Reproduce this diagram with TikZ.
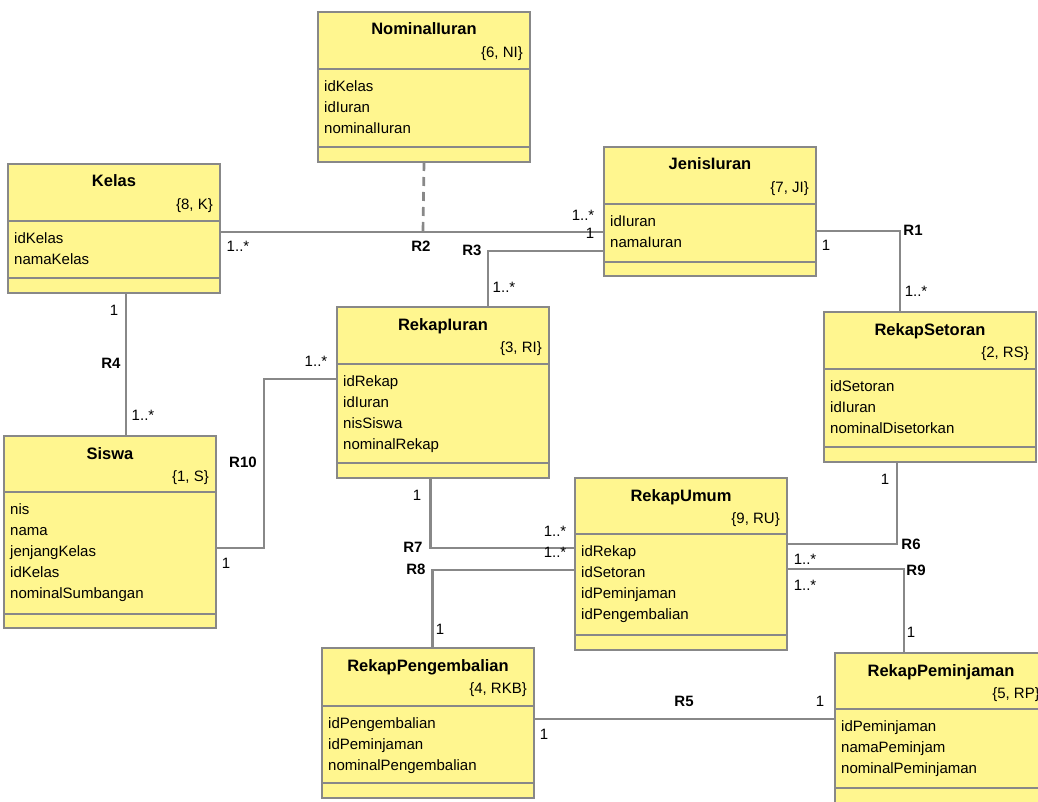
\documentclass[tikz,border=0pt]{standalone}
\usepackage{fontspec}
\setmainfont{Liberation Sans}
\definecolor{boxfill}{RGB}{255,246,143}
\definecolor{boxline}{RGB}{136,136,136}
\tikzset{
  cls/.style={draw=boxline, fill=boxfill, line width=2.7pt, minimum width=212pt, inner sep=0pt, outer sep=0pt, anchor=north west},
  divline/.style={draw=boxline, line width=2.7pt},
  ttl/.style={font=\fontsize{16.5}{18}\selectfont\bfseries, inner sep=0pt, text height=11pt, text depth=3pt},
  tagtxt/.style={font=\fontsize{15}{16}\selectfont, inner sep=0pt, anchor=east, text height=10pt, text depth=3pt},
  attr/.style={font=\fontsize{15}{16}\selectfont, inner sep=0pt, anchor=west, text height=10pt, text depth=3pt},
  conn/.style={draw=boxline, line width=2.7pt},
  assoc/.style={conn, dash pattern=on 9pt off 6pt},
  mult/.style={font=\fontsize{15}{16}\selectfont, inner sep=0pt, text height=10pt, text depth=3pt},
  rel/.style={font=\fontsize{15}{16}\selectfont\bfseries, inner sep=0pt, text height=10pt, text depth=3pt},
}
\newcommand{\umlclass}[9]{%
  \node[cls, minimum height=#6pt] (#1) at (#2,#3) {};
  \draw[divline] ([yshift=-#4pt]#1.north west) -- ([yshift=-#4pt]#1.north east);
  \draw[divline] ([yshift=-#5pt]#1.north west) -- ([yshift=-#5pt]#1.north east);
  \node[ttl] (#1-t) at ([yshift=-19pt]#1.north) {#7};
  \node[tagtxt] (#1-g) at ([xshift=-7pt,yshift=-42pt]#1.north east) {#8};
  \foreach \a [count=\i from 0] in {#9} {
    \node[attr] (#1-a\i) at ([xshift=6pt,yshift={-(#4+19+21*\i)*1pt}]#1.north west) {\a};
  }
}
\begin{document}
\begin{tikzpicture}[x=1pt,y=-1pt]
\useasboundingbox[fill=white] (0,0) rectangle (1038,802);

% classes
\umlclass{Nominal}{318}{12}{57}{135}{150}{NominalIuran}{\{6, NI\}}{idKelas, idIuran, nominalIuran}
\umlclass{Kelas}{8}{164}{57}{114}{129}{Kelas}{\{8, K\}}{idKelas, namaKelas}
\umlclass{Jenis}{604}{147}{57}{115}{129}{JenisIuran}{\{7, JI\}}{idIuran, namaIuran}
\umlclass{Setoran}{824}{312}{57}{135}{150}{RekapSetoran}{\{2, RS\}}{idSetoran, idIuran, nominalDisetorkan}
\umlclass{Siswa}{4}{436}{56}{178}{192}{Siswa}{\{1, S\}}{nis, nama, jenjangKelas, idKelas, nominalSumbangan}
\umlclass{RIuran}{337}{307}{57}{156}{171}{RekapIuran}{\{3, RI\}}{idRekap, idIuran, nisSiswa, nominalRekap}
\umlclass{Umum}{575}{478}{56}{157}{172}{RekapUmum}{\{9, RU\}}{idRekap, idSetoran, idPeminjaman, idPengembalian}
\umlclass{Kembali}{322}{648}{58}{135}{150}{RekapPengembalian}{\{4, RKB\}}{idPengembalian, idPeminjaman, nominalPengembalian}
\umlclass{Pinjam}{835}{653}{56}{135}{150}{RekapPeminjaman}{\{5, RP\}}{idPeminjaman, namaPeminjam, nominalPeminjaman}

% routing coordinates
\coordinate (c2) at (423,232);
\coordinate (c3) at (488,251);
\coordinate (c1) at (900,231);
\coordinate (c4) at (126,300);
\coordinate (c10a) at (264,548);
\coordinate (c10b) at (264,379);
\coordinate (c7) at (430.5,548);
\coordinate (c8) at (432.5,570);
\coordinate (c6) at (897,544);
\coordinate (c9) at (904,569);
\coordinate (c5) at (600,719);

% connectors
\draw[conn] (Kelas.east |- c2) -- (Jenis.west |- c2);
\draw[assoc] (Nominal.south) -- (c2);
\draw[conn] (Jenis.west |- c3) -- (c3) -- (c3 |- RIuran.north);
\draw[conn] (Jenis.east |- c1) -- (c1) -- (c1 |- Setoran.north);
\draw[conn] (c4 |- Kelas.south) -- (c4 |- Siswa.north);
\draw[conn] (Siswa.east |- c10a) -- (c10a) -- (c10b) -- (RIuran.west |- c10b);
\draw[conn] (c7 |- RIuran.south) -- (c7) -- (Umum.west |- c7);
\draw[conn] (Umum.west |- c8) -- (c8) -- (c8 |- Kembali.north);
\draw[conn] (Umum.east |- c6) -- (c6) -- (c6 |- Setoran.south);
\draw[conn] (Umum.east |- c9) -- (c9) -- (c9 |- Pinjam.north);
\draw[conn] (Kembali.east |- c5) -- (Pinjam.west |- c5);

% relation names
\node[rel] (lR1) at (913,232) {R1};
\node[rel] (lR2) at (421,248) {R2};
\node[rel] (lR3) at (472,252) {R3};
\node[rel] (lR4) at (111,365) {R4};
\node[rel] (lR5) at (684,703) {R5};
\node[rel] (lR6) at (911,546) {R6};
\node[rel] (lR7) at (413,549) {R7};
\node[rel] (lR8) at (416,571) {R8};
\node[rel] (lR9) at (916,572) {R9};
\node[rel] (lR10) at (243,464) {R10};

% multiplicities
\node[mult] (m1) at (238,248) {1..*};
\node[mult] (m2) at (583,217) {1..*};
\node[mult] (m3) at (590,235) {1};
\node[mult] (m4) at (504,289) {1..*};
\node[mult] (m5) at (826,247) {1};
\node[mult] (m6) at (916,293) {1..*};
\node[mult] (m7) at (114,312) {1};
\node[mult] (m8) at (143,417) {1..*};
\node[mult] (m9) at (316,363) {1..*};
\node[mult] (m10) at (226,565) {1};
\node[mult] (m11) at (417,497) {1};
\node[mult] (m12) at (555,533) {1..*};
\node[mult] (m13) at (555,554) {1..*};
\node[mult] (m14) at (440,631) {1};
\node[mult] (m15) at (885,481) {1};
\node[mult] (m16) at (805,561) {1..*};
\node[mult] (m17) at (805,587) {1..*};
\node[mult] (m18) at (911,634) {1};
\node[mult] (m19) at (820,703) {1};
\node[mult] (m20) at (544,736) {1};
\end{tikzpicture}
\end{document}
